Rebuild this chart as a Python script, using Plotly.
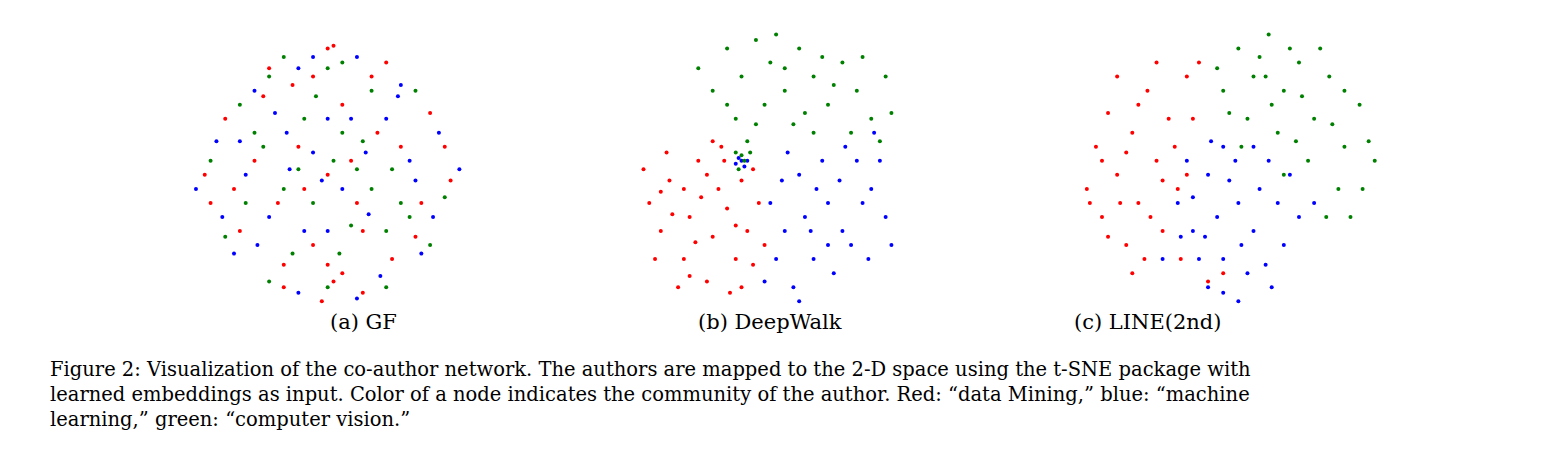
import plotly.graph_objects as go

# point positions, 0-100 units inside each panel (y up)
gf_red = "50,95 30,88 70,90 15,70 85,72 8,50 92,48 20,30 80,28 35,10 62,8 50,50 40,60 60,40 25,55 75,60 45,25 55,75 33,40 67,65 10,40 90,60 28,78 72,20 48,5 52,96 38,82 62,30 18,45 82,40 55,15 45,85 58,55 42,45 65,85 35,18 50,18 52,12"
gf_blue = "45,92 25,80 75,82 12,62 88,65 5,45 95,52 18,22 82,22 40,8 60,6 48,48 36,65 64,36 22,50 78,55 42,30 58,70 30,35 70,70 14,35 86,35 32,72 68,14 45,58 55,45 40,88 60,92 20,62 80,48 50,30 50,70 63,58 37,52 26,25 74,78"
gf_green = "55,90 35,92 65,80 20,75 80,80 10,55 90,42 15,28 85,25 30,12 70,10 52,55 42,70 58,32 28,60 72,52 38,22 62,62 35,45 65,45 22,40 78,35 45,40 55,65 46,78 54,22 30,85 70,30 50,10 50,88 40,52 60,52 25,65 75,40"

dw_red = "8,40 12,30 15,48 20,20 22,35 25,55 28,12 30,28 32,45 35,38 38,20 40,48 42,30 18,10 10,20 26,42 34,55 44,18 46,40 24,26 30,62 14,58 36,8 20,45 28,50 38,32 6,52 16,36 22,14 40,10 48,25 33,60 12,44 44,52"
dw_blue = "50,40 55,30 60,50 65,20 70,40 75,30 80,55 85,45 90,35 58,10 62,35 68,55 72,15 78,25 82,40 88,55 92,25 52,20 56,58 66,45 74,48 84,20 60,5 48,12 54,48 70,25 76,60 64,30 86,65 40,55 41,53 39,56 42,55 38,54"
dw_green = "35,95 40,85 45,98 50,90 55,80 60,95 65,85 70,75 75,90 80,80 85,70 90,85 30,80 38,70 48,75 58,68 68,92 78,65 88,62 25,88 42,62 52,100 62,72 72,82 82,92 92,72 45,68 55,88 35,75 65,65 40,57 41,55 39,52 43,58 38,58"

ln_red = "5,45 8,60 10,35 12,72 15,50 18,25 20,65 22,40 25,80 28,55 30,30 32,70 35,45 38,85 20,15 15,85 10,55 26,35 34,60 28,90 40,70 24,20 6,40 16,40 36,20 42,90 30,48 12,28 22,75 18,58 45,12 50,15 38,50"
ln_blue = "35,40 40,30 45,50 50,20 55,40 60,30 65,55 70,25 45,10 50,60 55,5 62,45 68,40 38,55 42,20 48,35 58,15 72,50 52,48 46,62 56,25 64,18 40,42 60,60 75,35 50,8 44,28 66,10 54,55 36,28 80,40 30,20"
ln_green = "55,95 60,85 65,100 70,80 75,90 80,70 85,85 90,60 95,75 100,55 50,80 58,70 68,65 78,55 88,45 92,35 62,92 72,95 82,95 48,88 56,60 66,75 76,78 86,68 96,45 84,35 74,62 64,85 52,72 98,62 90,80 70,50"

panels = [
    ("(a) GF", [gf_red, gf_blue, gf_green]),
    ("(b) DeepWalk", [dw_red, dw_blue, dw_green]),
    ("(c) LINE(2nd)", [ln_red, ln_blue, ln_green]),
]
colors = ["#ff0000", "#0000ff", "#008000"]
domains = [(0.105, 0.303), (0.389, 0.584), (0.673, 0.878)]

caption_lines = [
    "Figure 2: Visualization of the co-author network. The authors are mapped to the 2-D space using the t-SNE package with",
    "learned embeddings as input. Color of a node indicates the community of the author. Red: “data Mining,” blue: “machine",
    "learning,” green: “computer vision.”",
]


def parse(s):
    pts = [p.split(",") for p in s.split()]
    return [float(a) for a, b in pts], [float(b) for a, b in pts]


fig = go.Figure()
font = "DejaVu Serif"
for i, (title, series) in enumerate(panels):
    n = "" if i == 0 else str(i + 1)
    for s, c in zip(series, colors):
        x, y = parse(s)
        fig.add_trace(go.Scatter(x=x, y=y, mode="markers", xaxis="x" + n, yaxis="y" + n,
                                 marker=dict(color=c, size=4), showlegend=False))
    ax = dict(domain=list(domains[i]), range=[-3, 103], visible=False, anchor="y" + n)
    ay = dict(domain=[0.30, 0.96], range=[-3, 103], visible=False, anchor="x" + n)
    fig.update_layout(**{"xaxis" + n: ax, "yaxis" + n: ay})
    fig.add_annotation(text=title, x=sum(domains[i]) / 2, y=0.273, xref="paper", yref="paper",
                       showarrow=False, font=dict(family=font, size=21, color="black"))

for k, line in enumerate(caption_lines):
    fig.add_annotation(text=line, x=40 / 1567, y=1 - (375 + 25 * k) / 451, xref="paper", yref="paper",
                       xanchor="left", showarrow=False, font=dict(family=font, size=19.5, color="black"))

fig.update_layout(width=1567, height=451, margin=dict(l=0, r=0, t=0, b=0),
                  plot_bgcolor="white", paper_bgcolor="white")
fig.write_html("out.html")
